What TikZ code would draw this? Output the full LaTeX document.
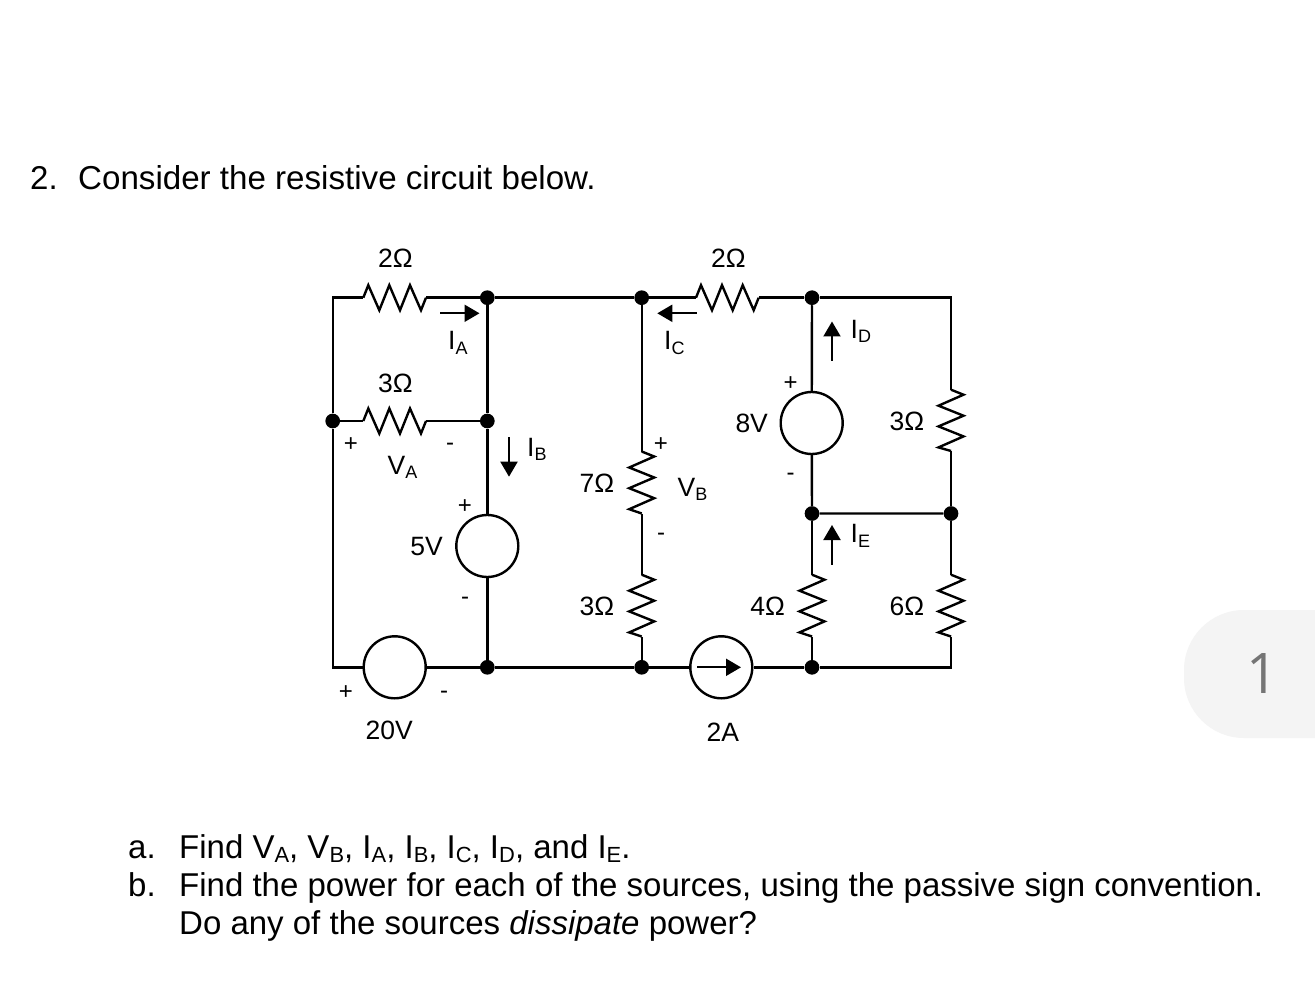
\documentclass[tikz,border=0pt]{standalone}
\usepackage{fontspec}
\setmainfont{Liberation Sans}
\newfontfamily\pagefont{Open Sans}
\usetikzlibrary{arrows.meta}
\newcommand{\lblsub}[1]{\raisebox{-4.3pt}{\fontsize{18}{18}\selectfont #1}}
\newcommand{\txtsub}[1]{\raisebox{-4.5pt}{\fontsize{21.9}{22}\selectfont #1}}
\tikzset{
  x=1pt,y=-1pt,
  wire/.style={line width=2.4pt,line join=miter},
  dot/.style={circle,fill=black,inner sep=0pt,minimum size=14.7pt},
  source/.style={circle,draw=black,line width=2.4pt,inner sep=0pt,minimum size=62pt},
  lbl/.style={anchor=base,inner sep=0pt,font=\fontsize{26.5}{30}\selectfont},
  lblw/.style={anchor=base west,inner sep=0pt,font=\fontsize{26.5}{30}\selectfont},
  pol/.style={anchor=center,inner sep=0pt,font=\fontsize{24}{26}\selectfont},
  body/.style={anchor=base west,inner sep=0pt,font=\fontsize{33}{36}\selectfont},
  cur/.style={line width=2pt,-{Triangle[length=15pt,width=17pt]}},
  resh/.style={to path={-- ++(5,-12.5) -- ++(11,25) -- ++(10,-25) -- ++(10.7,25) -- ++(10,-25) -- ++(11,25) -- (\tikztotarget)}},
  resv/.style={to path={-- ++(12.5,5) -- ++(-25,11) -- ++(25,10) -- ++(-25,10.7) -- ++(25,10) -- ++(-25,11) -- (\tikztotarget)}}
}
\begin{document}
\begin{tikzpicture}
\useasboundingbox (0,0) rectangle (1315,992);
\fill[white] (0,0) rectangle (1315,992);
% page badge
\fill[color={rgb,255:red,244;green,244;blue,244}] (1315,610) [rounded corners=60pt] -- (1184,610) -- (1184,738) [sharp corners] -- (1315,738) -- cycle;
\node[anchor=base,inner sep=0pt,font=\pagefont\fontsize{56}{60}\selectfont,text={rgb,255:red,117;green,117;blue,117}] (badge) at (1262,693) {1};
% text
\node[body] (qnum) at (30,190) {2.};
\node[body,font=\fontsize{33.13}{36}\selectfont] (qtext) at (78,190) {Consider the resistive circuit below.};
\node[body] (anum) at (128,858) {a.};
\node[body] (atext) at (179,858) {Find V\txtsub{A}, V\txtsub{B}, I\txtsub{A}, I\txtsub{B}, I\txtsub{C}, I\txtsub{D}, and I\txtsub{E}.};
\node[body] (bnum) at (128,896) {b.};
\node[body] (btext) at (179,896) {Find the power for each of the sources, using the passive sign convention.};
\node[body] (ctext) at (179,934) {Do any of the sources \textit{dissipate} power?};
% junctions
\node[dot] (nA) at (487.3,297.7) {};
\node[dot] (nB) at (487.3,421) {};
\node[dot] (nC) at (641.7,297.7) {};
\node[dot] (nD) at (812,297.7) {};
\node[dot] (nE) at (487.3,667.3) {};
\node[dot] (nG) at (641.7,667.3) {};
\node[dot] (nH) at (812,667.3) {};
\node[dot] (nI) at (812,513.5) {};
\node[dot] (nF) at (951,513.5) {};
\node[dot] (nL) at (332.7,421) {};
\coordinate (cTL) at (332.7,297.7);
\coordinate (cBL) at (332.7,667.3);
\coordinate (cTR) at (951,297.7);
\coordinate (cBR) at (951,667.3);
% sources
\node[source] (s5) at (487.3,546) {};
\node[source] (s20) at (394.7,667.3) {};
\node[source] (s8) at (811.7,423) {};
\node[source] (s2) at (721.3,667.3) {};
% resistor ends
\coordinate (r1a) at (363.3,297.7); \coordinate (r1b) at (426,297.7);
\coordinate (r2a) at (363.3,421);   \coordinate (r2b) at (426,421);
\coordinate (r3a) at (696,297.7);   \coordinate (r3b) at (758.7,297.7);
\coordinate (r4a) at (641.7,451.5); \coordinate (r4b) at (641.7,513.5);
\coordinate (r5a) at (641.7,574.7); \coordinate (r5b) at (641.7,636.5);
\coordinate (r6a) at (812,574.7);   \coordinate (r6b) at (812,636.5);
\coordinate (r7a) at (951,389.7);   \coordinate (r7b) at (951,451);
\coordinate (r8a) at (951,574.7);   \coordinate (r8b) at (951,636.5);
% wires
\draw[wire] (nL) -- (cTL) -- (r1a);
\draw[wire,resh] (r1a) to (r1b);
\draw[wire] (r1b) -- (nA) -- (nC) -- (r3a);
\draw[wire,resh] (r3a) to (r3b);
\draw[wire] (r3b) -- (nD) -- (cTR) -- (r7a);
\draw[wire,resv] (r7a) to (r7b);
\draw[wire] (r7b) -- (nF) -- (r8a);
\draw[wire,resv] (r8a) to (r8b);
\draw[wire] (r8b) -- (cBR) -- (nH) -- (s2) -- (nG) -- (nE) -- (s20) -- (cBL) -- (nL);
\draw[wire] (nL) -- (r2a);
\draw[wire,resh] (r2a) to (r2b);
\draw[wire] (r2b) -- (nB);
\draw[wire] (nA) -- (nB) -- (s5) -- (nE);
\draw[wire] (nC) -- (r4a);
\draw[wire,resv] (r4a) to (r4b);
\draw[wire] (r4b) -- (r5a);
\draw[wire,resv] (r5a) to (r5b);
\draw[wire] (r5b) -- (nG);
\draw[wire] (nD) -- (s8) -- (nI) -- (nF);
\draw[wire] (nI) -- (r6a);
\draw[wire,resv] (r6a) to (r6b);
\draw[wire] (r6b) -- (nH);
% current arrows
\coordinate (aAa) at (440,313.3); \coordinate (aAb) at (479.5,313.3);
\coordinate (aCa) at (696.7,313.3); \coordinate (aCb) at (657.3,313.3);
\coordinate (aDa) at (832,360.7); \coordinate (aDb) at (832,321.5);
\coordinate (aEa) at (832,564.7); \coordinate (aEb) at (832,525);
\coordinate (aBa) at (509,437); \coordinate (aBb) at (509,476.7);
\coordinate (aSa) at (697,667.3); \coordinate (aSb) at (741,667.3);
\draw[cur] (aAa) -- (aAb);
\draw[cur] (aCa) -- (aCb);
\draw[cur] (aDa) -- (aDb);
\draw[cur] (aEa) -- (aEb);
\draw[cur] (aBa) -- (aBb);
\draw[cur] (aSa) -- (aSb);
% values
\node[lbl] (l1) at (395.5,268) {2Ω};
\node[lbl] (l2) at (395.5,392) {3Ω};
\node[lbl] (l3) at (728.3,268) {2Ω};
\node[lbl] (l4) at (751.7,432.3) {8V};
\node[lbl] (l5) at (907,430.7) {3Ω};
\node[lbl] (l6) at (597,492.7) {7Ω};
\node[lbl] (l7) at (597,615.5) {3Ω};
\node[lbl] (l8) at (426.7,555.7) {5V};
\node[lbl] (l9) at (767.7,615.5) {4Ω};
\node[lbl] (l10) at (907,615.5) {6Ω};
\node[lbl] (l11) at (389.3,739.5) {20V};
\node[lbl] (l12) at (722.8,741.7) {2A};
% current and voltage names
\node[lblw] (iA) at (448,350) {I\lblsub{A}};
\node[lblw] (iB) at (527,456) {I\lblsub{B}};
\node[lblw] (iC) at (664,350) {I\lblsub{C}};
\node[lblw] (iD) at (850.5,338.3) {I\lblsub{D}};
\node[lblw] (iE) at (850.5,542.7) {I\lblsub{E}};
\node[lblw] (vA) at (387.5,474) {V\lblsub{A}};
\node[lblw] (vB) at (677.5,496) {V\lblsub{B}};
% polarity
\node[pol] (p1) at (351,444.5) {+};
\node[pol] (m1) at (450,447) {-};
\node[pol] (p2) at (465,507) {+};
\node[pol] (m2) at (465,601) {-};
\node[pol] (p3) at (346,693) {+};
\node[pol] (m3) at (444,694.5) {-};
\node[pol] (p4) at (790.7,383.5) {+};
\node[pol] (m4) at (790.7,476.5) {-};
\node[pol] (p5) at (661,444.5) {+};
\node[pol] (m5) at (661,536.5) {-};
\end{tikzpicture}
\end{document}
